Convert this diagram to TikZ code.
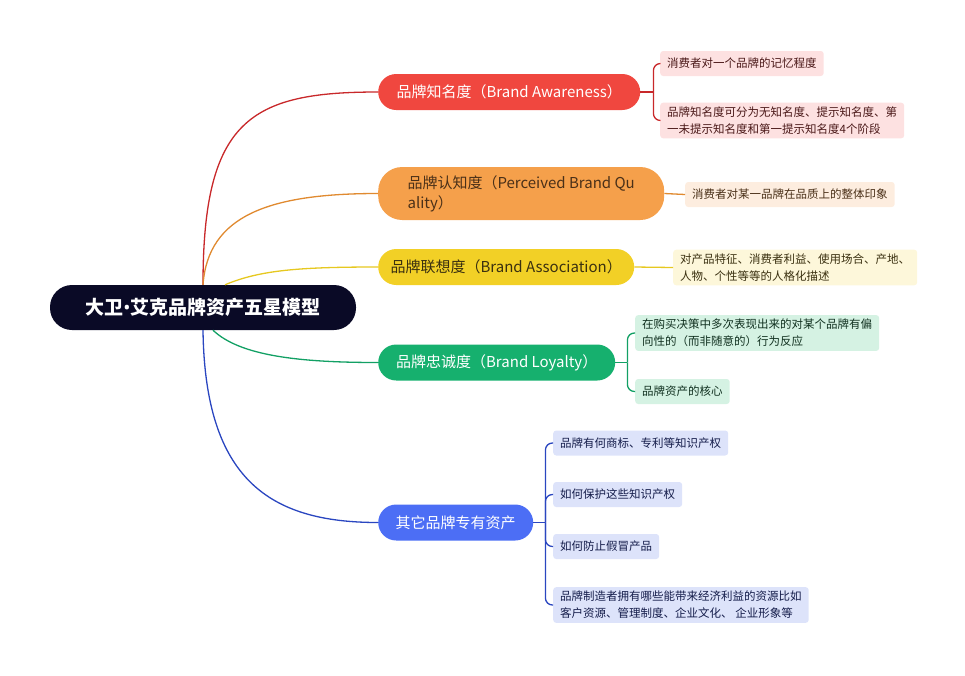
\documentclass[tikz,border=0pt]{standalone}
\usepackage{fontspec}
\setmainfont{Noto Sans CJK SC}
\newfontfamily\latinsans{Noto Sans}
\usetikzlibrary{calc}
\definecolor{rootc}{HTML}{0A0A26}
\definecolor{redn}{HTML}{F0473F}
\definecolor{redl}{HTML}{C8282A}
\definecolor{redf}{HTML}{FDE1E1}
\definecolor{redt}{HTML}{4A1818}
\definecolor{orgn}{HTML}{F5A04B}
\definecolor{orgl}{HTML}{E08A30}
\definecolor{orgf}{HTML}{FDEDDF}
\definecolor{orgt}{HTML}{4A3018}
\definecolor{yeln}{HTML}{F2D026}
\definecolor{yell}{HTML}{E6C820}
\definecolor{yelf}{HTML}{FDF7DA}
\definecolor{yelt}{HTML}{3A3010}
\definecolor{grnn}{HTML}{16B06E}
\definecolor{grnl}{HTML}{12A064}
\definecolor{grnf}{HTML}{D5F2E3}
\definecolor{grnt}{HTML}{10301F}
\definecolor{blun}{HTML}{4C6EF5}
\definecolor{blul}{HTML}{2A46C0}
\definecolor{bluf}{HTML}{DDE3FA}
\definecolor{blut}{HTML}{141C4A}
\tikzset{
  rootbox/.style={fill=rootc, text=white, rounded corners=22, minimum width=306, minimum height=45, inner sep=0, font=\fontsize{19}{24}\selectfont\bfseries},
  lone/.style={rounded corners=18, minimum height=36, inner sep=0, anchor=west, font=\fontsize{15}{20}\selectfont, align=left},
  ltwo/.style={rounded corners=3, minimum height=25, inner xsep=7, inner ysep=4, anchor=west, font=\fontsize{11.5}{17}\selectfont, align=left},
  link/.style={line width=1.3},
  brk/.style={line width=1.3, rounded corners=7},
}
\begin{document}
\begin{tikzpicture}[x=1pt,y=-1pt]
\useasboundingbox (0,0) rectangle (965,675);

\node[rootbox] (root) at (203,307.5) {大卫{\latinsans\bfseries •}艾克品牌资产五星模型};

% level 1
\node[lone, fill=redn, text=white, minimum width=262] (a) at (378,92) {品牌知名度（Brand Awareness）};
\node[lone, fill=orgn, text=orgt, minimum width=286, minimum height=53, rounded corners=24] (b) at (378,193.5) {品牌认知度（Perceived Brand Qu\\ality）};
\node[lone, fill=yeln, text=yelt, minimum width=256] (c) at (378,267) {品牌联想度（Brand Association）};
\node[lone, fill=grnn, text=white, minimum width=237] (d) at (378,362.5) {品牌忠诚度（Brand Loyalty）};
\node[lone, fill=blun, text=white, minimum width=155] (e) at (378,522.5) {其它品牌专有资产};

% connectors root -> level 1
\draw[link, redl] (root.north) .. controls (203,120) and (250,92) .. (a.west);
\draw[link, orgl] (root.north) .. controls (208,215) and (270,193.5) .. (b.west);
\draw[link, yell] ($(root.north)+(22,0)$) .. controls (260,270) and (300,267) .. (c.west);
\draw[link, grnl] ($(root.south)+(10,0)$) .. controls (240,356) and (300,362.5) .. (d.west);
\draw[link, blul] (root.south) .. controls (205,480) and (270,522.5) .. (e.west);

% level 2 red
\node[ltwo, fill=redf, text=redt] (a1) at (660,63.5) {消费者对一个品牌的记忆程度};
\node[ltwo, fill=redf, text=redt] (a2) at (660,120.5) {品牌知名度可分为无知名度、提示知名度、第\\一未提示知名度和第一提示知名度4个阶段};
\draw[link, redl] (a.east) -- ++(13,0) coordinate (ab);
\draw[brk, redl] (ab) |- (a1.west);
\draw[brk, redl] (ab) |- (a2.west);

% orange
\node[ltwo, fill=orgf, text=orgt] (b1) at (685,194.5) {消费者对某一品牌在品质上的整体印象};
\draw[link, orgl] (b.east) -- (b1.west);

% yellow
\node[ltwo, fill=yelf, text=yelt] (c1) at (673,267.5) {对产品特征、消费者利益、使用场合、产地、\\人物、个性等等的人格化描述};
\draw[link, yell] (c.east) -- (c1.west);

% green
\node[ltwo, fill=grnf, text=grnt] (d1) at (635,333) {在购买决策中多次表现出来的对某个品牌有偏\\向性的（而非随意的）行为反应};
\node[ltwo, fill=grnf, text=grnt] (d2) at (635,391.5) {品牌资产的核心};
\draw[link, grnl] (d.east) -- ++(12,0) coordinate (db);
\draw[brk, grnl] (db) |- (d1.west);
\draw[brk, grnl] (db) |- (d2.west);

% blue
\node[ltwo, fill=bluf, text=blut] (e1) at (553,443) {品牌有何商标、专利等知识产权};
\node[ltwo, fill=bluf, text=blut] (e2) at (553,494.5) {如何保护这些知识产权};
\node[ltwo, fill=bluf, text=blut] (e3) at (553,546.5) {如何防止假冒产品};
\node[ltwo, fill=bluf, text=blut] (e4) at (553,605) {品牌制造者拥有哪些能带来经济利益的资源比如\\客户资源、管理制度、企业文化、 企业形象等};
\draw[link, blul] (e.east) -- ++(12,0) coordinate (eb);
\draw[brk, blul] (eb) |- (e1.west);
\draw[brk, blul] (eb) |- (e2.west);
\draw[brk, blul] (eb) |- (e3.west);
\draw[brk, blul] (eb) |- (e4.west);
\end{tikzpicture}
\end{document}
